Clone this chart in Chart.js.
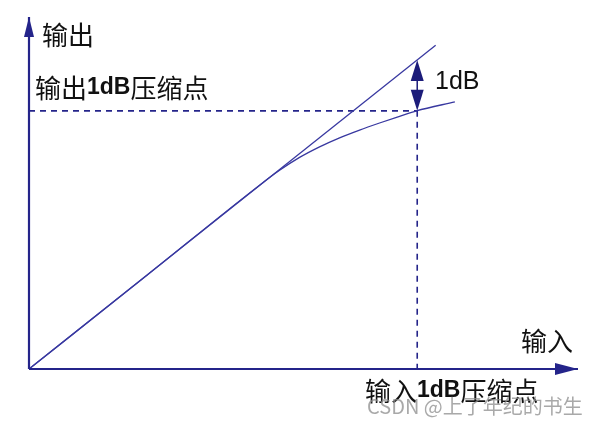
<!DOCTYPE html>
<html lang="zh">
<head>
<meta charset="UTF-8">
<title>1dB压缩点</title>
<script src="https://cdnjs.cloudflare.com/ajax/libs/Chart.js/4.4.0/chart.umd.min.js"></script>
<style>
  html, body { margin: 0; padding: 0; background: #fff; }
  #wrap { width: 596px; height: 426px; position: relative; }
</style>
</head>
<body>
<div id="wrap"><canvas id="chart"></canvas></div>
<script>
// ideal (linear) gain line
const linearIn = [0, 10.37];
const linearOut = [0, 8.28];
// real output, bends over at high input
const realIn = [0, 3.0, 5.88, 6.39, 6.90, 7.41, 7.92, 8.43, 8.94, 9.45, 9.88, 10.86];
const realOut = [0, 2.39, 4.70, 5.08, 5.41, 5.68, 5.91, 6.11, 6.29, 6.46, 6.60, 6.83];
// 1dB compression point: input, ideal output, real output
const p1dbIn = [9.9];
const p1dbIdeal = [7.9];
const p1dbOut = [6.60];
// axis ends (x, y)
const axisMax = [14, 9];

const AXIS = '#24248a';
const LINE = '#3838a0';
const DARK = '#1c1c7a';
const CJK = '"Noto Sans CJK SC", sans-serif';
const LAT = '"Liberation Sans", Arial, sans-serif';

const pts = (xs, ys) => xs.map((x, i) => ({ x, y: ys[i] }));

function tri(ctx, tipX, tipY, dx, dy, len, half) {
    // filled arrowhead pointing along (dx, dy)
    const bx = tipX - dx * len, by = tipY - dy * len;
    ctx.beginPath();
    ctx.moveTo(tipX, tipY);
    ctx.lineTo(bx - dy * half, by + dx * half);
    ctx.lineTo(bx + dy * half, by - dx * half);
    ctx.closePath();
    ctx.fill();
}

function runs(ctx, list, x, y) {
    ctx.textBaseline = 'middle';
    list.forEach(r => {
        ctx.font = r[1];
        ctx.fillText(r[0], x, y);
        x += ctx.measureText(r[0]).width;
    });
}

const decor = {
    id: 'decor',
    afterDatasetsDraw(chart) {
        const { ctx, scales: { x, y } } = chart;
        ctx.save();
        ctx.fillStyle = AXIS;
        // axis arrowheads
        tri(ctx, x.getPixelForValue(0), y.getPixelForValue(axisMax[1]), 0, -1, 20, 5);
        tri(ctx, x.getPixelForValue(axisMax[0]), y.getPixelForValue(0), 1, 0, 23, 6);

        // double arrow marking the 1dB gap
        const cx = x.getPixelForValue(p1dbIn[0]);
        const top = y.getPixelForValue(p1dbIdeal[0]);
        const bot = y.getPixelForValue(p1dbOut[0]);
        ctx.fillStyle = DARK;
        ctx.strokeStyle = DARK;
        ctx.lineWidth = 1.5;
        ctx.beginPath();
        ctx.moveTo(cx, top + 10);
        ctx.lineTo(cx, bot - 10);
        ctx.stroke();
        tri(ctx, cx, top, 0, -1, 21, 6.5);
        tri(ctx, cx, bot, 0, 1, 21, 6.5);
        ctx.restore();
    },
    afterDraw(chart) {
        const { ctx } = chart;
        ctx.save();
        ctx.fillStyle = '#111';
        const cjk = '26px ' + CJK;
        const bold = 'bold 23px ' + LAT;
        runs(ctx, [['输出', cjk]], 42, 35);
        runs(ctx, [['输出', cjk], ['1dB', bold], ['压缩点', cjk]], 35, 88);
        runs(ctx, [['1dB', '25px ' + LAT]], 435, 82);
        runs(ctx, [['输入', cjk]], 521, 341);
        runs(ctx, [['输入', cjk], ['1dB', bold], ['压缩点', cjk]], 365, 391);
        ctx.fillStyle = 'rgba(140,140,140,0.75)';
        runs(ctx, [['CSDN @上了年纪的书生', '20px ' + CJK]], 367, 406);
        ctx.restore();
    }
};

new Chart(document.getElementById('chart'), {
    type: 'scatter',
    data: {
        datasets: [
            { data: pts([0, axisMax[0]], [0, 0]), borderColor: AXIS, borderWidth: 2.2 },
            { data: pts([0, 0], [0, axisMax[1]]), borderColor: AXIS, borderWidth: 2.2 },
            { data: pts(linearIn, linearOut), borderColor: LINE, borderWidth: 1.3 },
            { data: pts(realIn, realOut), borderColor: LINE, borderWidth: 1.3, cubicInterpolationMode: 'monotone' },
            { data: pts([0, p1dbIn[0]], [p1dbOut[0], p1dbOut[0]]), borderColor: AXIS, borderWidth: 1.6, borderDash: [6, 5] },
            { data: pts([p1dbIn[0], p1dbIn[0]], [p1dbOut[0], 0]), borderColor: AXIS, borderWidth: 1.6, borderDash: [6, 5] }
        ]
    },
    options: {
        responsive: true,
        maintainAspectRatio: false,
        animation: false,
        layout: { padding: { left: 29, right: 18, top: 17, bottom: 57 } },
        datasets: { scatter: { showLine: true, pointRadius: 0, clip: false } },
        scales: {
            x: { type: 'linear', min: 0, max: axisMax[0], display: false },
            y: { type: 'linear', min: 0, max: axisMax[1], display: false }
        },
        plugins: { legend: { display: false }, tooltip: { enabled: false } }
    },
    plugins: [decor]
});
</script>
</body>
</html>
